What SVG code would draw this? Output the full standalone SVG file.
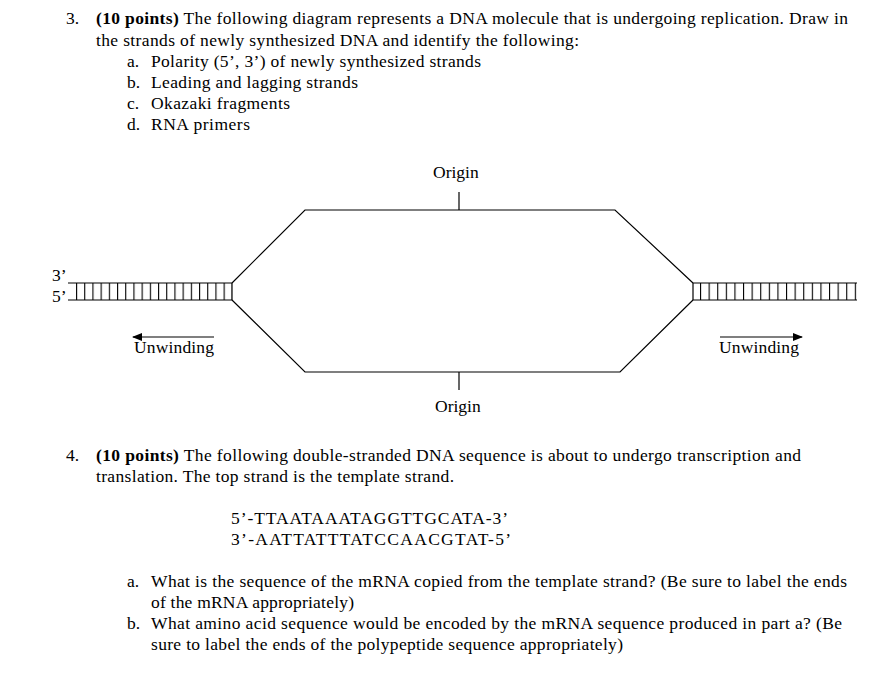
<svg xmlns="http://www.w3.org/2000/svg" width="869" height="681" viewBox="0 0 869 681">
<defs>
<marker id="ah" markerWidth="10" markerHeight="8" refX="9" refY="4" orient="auto" markerUnits="userSpaceOnUse"><path d="M0,0 L10,4 L0,8 Z" fill="#000"/></marker>
<pattern id="rl" x="76" y="0" width="8.2" height="20" patternUnits="userSpaceOnUse"><line x1="0.5" y1="0" x2="0.5" y2="20" stroke="#000"/></pattern>
<pattern id="rr" x="700" y="0" width="8.6" height="20" patternUnits="userSpaceOnUse"><line x1="0.5" y1="0" x2="0.5" y2="20" stroke="#000"/></pattern>
</defs>
<style>
text{font-family:"Liberation Serif","Times New Roman",serif;font-size:17.5px;fill:#000}
.b{font-weight:bold}
line,path.s{stroke:#000;stroke-width:1.2;fill:none}
</style>
<rect width="869" height="681" fill="#fff"/>
<text x="66" y="24">3.</text>
<text x="96" y="24" textLength="752" lengthAdjust="spacing"><tspan class="b">(10 points)</tspan> The following diagram represents a DNA molecule that is undergoing replication. Draw in</text>
<text x="96" y="46" textLength="483" lengthAdjust="spacing">the strands of newly synthesized DNA and identify the following:</text>
<text x="127" y="67">a.</text><text x="151" y="67" textLength="330" lengthAdjust="spacing">Polarity (5’, 3’) of newly synthesized strands</text>
<text x="127" y="88">b.</text><text x="151" y="88" textLength="207" lengthAdjust="spacing">Leading and lagging strands</text>
<text x="127" y="109">c.</text><text x="151" y="109" textLength="139" lengthAdjust="spacing">Okazaki fragments</text>
<text x="127" y="130">d.</text><text x="151" y="130" textLength="99" lengthAdjust="spacing">RNA primers</text>
<g id="ladder-left">
<rect x="76" y="283" width="156" height="17" fill="url(#rl)"/>
<line x1="68" y1="283" x2="232" y2="283"/><line x1="68" y1="300" x2="232" y2="300"/><line x1="232" y1="283" x2="232" y2="300"/>
<text x="52" y="281" font-size="13.5">3’</text><text x="52" y="302" font-size="13.5">5’</text>
</g>
<g id="ladder-right">
<rect x="700" y="283" width="157" height="17" fill="url(#rr)"/>
<line x1="693" y1="283" x2="857" y2="283"/><line x1="693" y1="300" x2="857" y2="300"/><line x1="693" y1="283" x2="693" y2="300"/>
</g>
<g id="bubble">
<path class="s" d="M232,283 L305,210 L615,210 L693,283 M232,300 L305,372 L620,372 L693,300"/>
</g>
<g id="connectors">
<line x1="459" y1="192" x2="459" y2="210"/>
<line x1="459" y1="372" x2="459" y2="390"/>
<line x1="214" y1="337" x2="133" y2="337" marker-end="url(#ah)"/>
<line x1="720" y1="337" x2="802" y2="337" marker-end="url(#ah)"/>
</g>
<text x="433" y="178">Origin</text>
<text x="435" y="412">Origin</text>
<text x="134" y="353" textLength="80" lengthAdjust="spacing">Unwinding</text>
<text x="719" y="353" textLength="80" lengthAdjust="spacing">Unwinding</text>
<text x="66" y="461">4.</text>
<text x="96" y="461" textLength="705" lengthAdjust="spacing"><tspan class="b">(10 points)</tspan> The following double-stranded DNA sequence is about to undergo transcription and</text>
<text x="96" y="482" textLength="358" lengthAdjust="spacing">translation. The top strand is the template strand.</text>
<text x="231" y="524" textLength="277" lengthAdjust="spacing">5’-TTAATAAATAGGTTGCATA-3’</text>
<text x="231" y="545" textLength="280" lengthAdjust="spacing">3’-AATTATTTATCCAACGTAT-5’</text>
<text x="127" y="587">a.</text><text x="151" y="587" textLength="696" lengthAdjust="spacing">What is the sequence of the mRNA copied from the template strand? (Be sure to label the ends</text>
<text x="151" y="608" textLength="203" lengthAdjust="spacing">of the mRNA appropriately)</text>
<text x="127" y="629">b.</text><text x="151" y="629" textLength="691" lengthAdjust="spacing">What amino acid sequence would be encoded by the mRNA sequence produced in part a? (Be</text>
<text x="151" y="650" textLength="472" lengthAdjust="spacing">sure to label the ends of the polypeptide sequence appropriately)</text>
</svg>
